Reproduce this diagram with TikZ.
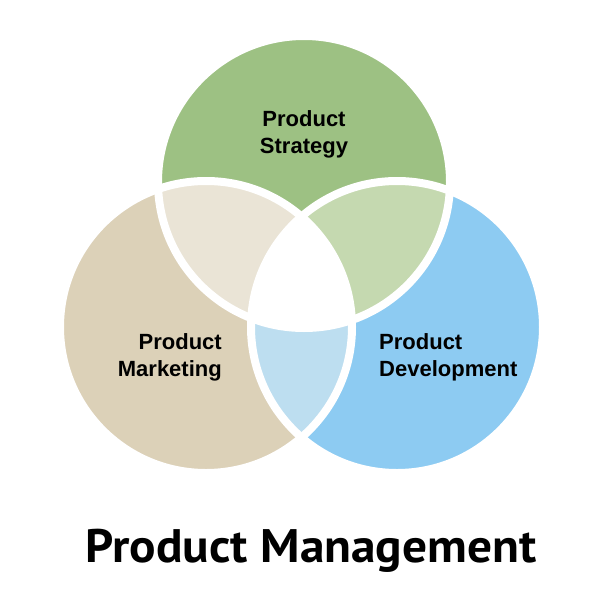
\documentclass[tikz,border=0pt]{standalone}
\usepackage{fontspec}
\setmainfont{Liberation Sans}
\newfontfamily\titlefont{PT Sans}
\usepackage{tikz}
\usepackage{xcolor}

\definecolor{stratgreen}{HTML}{9DC183}
\definecolor{marktan}{HTML}{DCD1B8}
\definecolor{devblue}{HTML}{8DCBF2}
\definecolor{lighttan}{HTML}{EAE4D6}
\definecolor{lightgreen}{HTML}{C5D9B0}
\definecolor{lightblue}{HTML}{BDDEF0}

\tikzset{
  lbl/.style={font=\fontsize{22}{27}\selectfont\bfseries, inner sep=0pt},
  ring/.style={draw=white, line width=8pt}
}

\begin{document}
\begin{tikzpicture}[x=1pt, y=-1pt]
            \useasboundingbox (0,0) rectangle (600,600);
            \coordinate (S) at (304,182);
            \coordinate (M) at (206,327);
            \coordinate (D) at (397,327);
            % circles
            \fill[marktan] (M) circle (146pt);
            \fill[stratgreen] (S) circle (146pt);
            \fill[devblue] (D) circle (146pt);
            % overlaps
            \begin{scope}
                \clip (M) circle (146pt);
                \fill[lighttan] (S) circle (146pt);
                \fill[lightblue] (D) circle (146pt);
                \clip (S) circle (146pt);
                \fill[white] (D) circle (146pt);
            \end{scope}
            \begin{scope}
                \clip (S) circle (146pt);
                \fill[lightgreen] (D) circle (146pt);
                \clip (M) circle (146pt);
                \fill[white] (D) circle (146pt);
            \end{scope}
            \draw[ring] (M) circle (146pt);
            \draw[ring] (S) circle (146pt);
            \draw[ring] (D) circle (146pt);
            % labels
            \node[lbl, align=center, anchor=base] (strat) at (304,153) {Product\\Strategy};
            \node[lbl, align=right, anchor=base east] (mark) at (222,376) {Product\\Marketing};
            \node[lbl, align=left, anchor=base west] (dev) at (379,376) {Product\\Development};
            \node[font=\titlefont\fontsize{47}{47}\selectfont\bfseries, inner sep=0pt, anchor=base, xscale=1.05] (title) at (311,562) {Product Management};
        \end{tikzpicture}
\end{document}
